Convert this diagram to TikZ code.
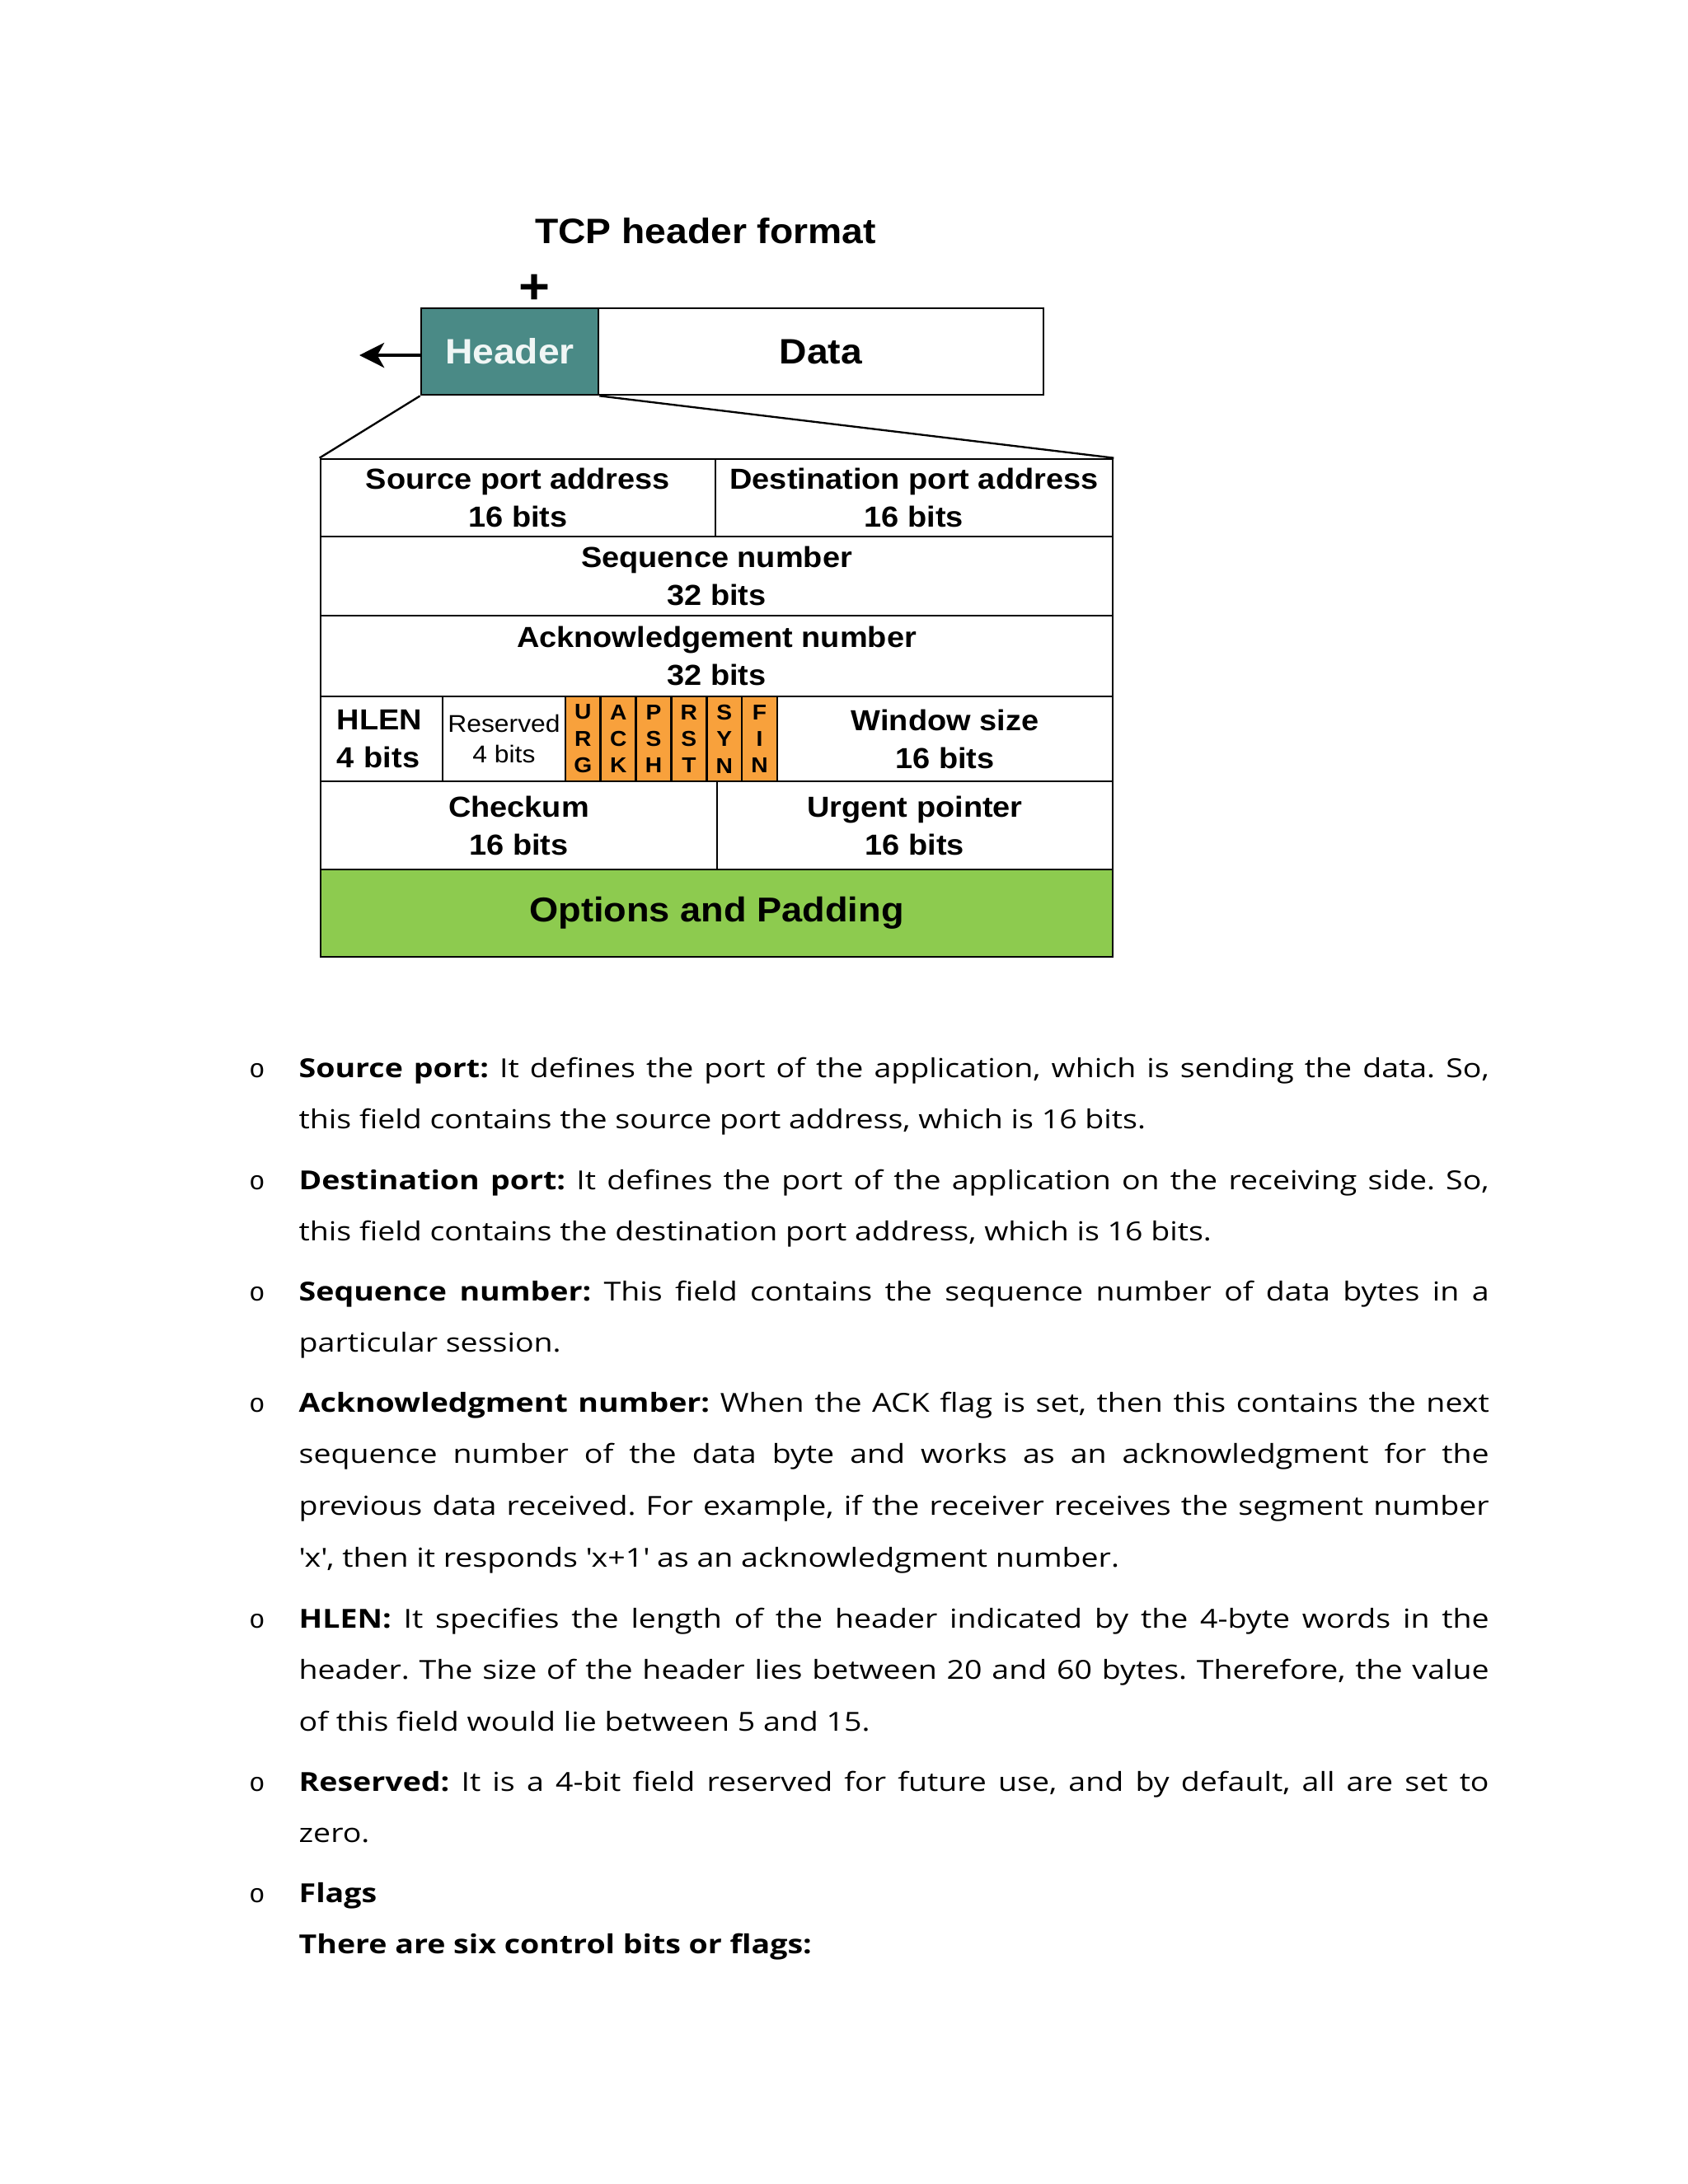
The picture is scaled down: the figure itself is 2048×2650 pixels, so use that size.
\documentclass[tikz,border=0pt]{standalone}
\usepackage{fontspec}
\usetikzlibrary{arrows.meta}
\newfontfamily\diagfont[FakeStretch=1.08]{Liberation Sans}
\newfontfamily\bodyfont[FakeStretch=1.18]{Open Sans}
\newfontfamily\bulletfont{Liberation Mono}
\newlength\pxu
\setlength\pxu{0.29883pt}
\definecolor{hdrteal}{RGB}{74,138,134}
\definecolor{flagorange}{RGB}{248,161,60}
\definecolor{optgreen}{RGB}{141,203,79}
\frenchspacing

\begin{document}
\begin{tikzpicture}[
  x=\pxu, y=-\pxu,
  cell/.style 2 args={draw,line width=0.8pt,minimum width=#1*\pxu,
    minimum height=#2*\pxu,inner sep=0pt,align=center,
    font=\diagfont\bfseries\fontsize{10.5}{13.7}\selectfont},
  flag/.style={cell={42.83}{103},fill=flagorange,
    font=\diagfont\bfseries\fontsize{7.8}{9.7}\selectfont},
  para/.style={anchor=base west,text width=431.5pt,align=justify,inner sep=0pt,
    font=\bodyfont\fontsize{9.5}{18.74}\selectfont,
    execute at begin node={\hyphenpenalty=10000\exhyphenpenalty=10000\tolerance=9999}},
  bullet/.style={anchor=base,inner sep=0pt,font=\bulletfont\fontsize{9.5}{9.5}\selectfont},
  link/.style={line width=0.7pt},
  arrow/.style={-{Stealth[length=9pt,width=9pt,inset=2.5pt]},line width=1.3pt}
]
\useasboundingbox[fill=white] (0,0) rectangle (2048,2650);

\node[font=\diagfont\bfseries\fontsize{12.8}{15}\selectfont] (title) at (856,280) {TCP header format};
\node[font=\diagfont\bfseries\fontsize{18}{18}\selectfont] (plus) at (648,351) {+};
\node[cell={215}{105},fill=hdrteal,text=white!92!hdrteal,
  font=\diagfont\bfseries\fontsize{12.8}{15}\selectfont] (hdr) at (618.5,426.5) {Header};
\node[cell={540}{105},font=\diagfont\bfseries\fontsize{12.8}{15}\selectfont] (data) at (996,426.5) {Data};
\coordinate (out) at (436,431);
\draw[arrow] (hdr.west |- out) -- (out);

\node[cell={479}{94}] (src) at (628.5,604) {Source port address\\16 bits};
\node[cell={482}{94}] (dst) at (1109,604) {Destination port address\\16 bits};
\node[cell={961}{96}] (seq) at (869.5,699) {Sequence number\\32 bits};
\node[cell={961}{98}] (ack) at (869.5,796) {Acknowledgement number\\32 bits};
\node[cell={148}{103},align=left,text width=32.3pt,inner xsep=5.98pt] (hlen) at (463,896.5) {HLEN\\4 bits};
\node[cell={149}{103},font=\diagfont\fontsize{8.8}{11.1}\selectfont] (rsv) at (611.5,896.5) {Reserved\\4 bits};
\foreach \f [count=\i from 0] in {{U\\R\\G},{A\\C\\K},{P\\S\\H},{R\\S\\T},{S\\Y\\N},{F\\I\\N}}
  \node[flag] (flag\i) at ({707.4+42.83*\i},896.5) {\f};
\node[cell={407}{103}] (win) at (1146.5,896.5) {Window size\\16 bits};
\node[cell={481}{107}] (chk) at (629.5,1001.5) {Checkum\\16 bits};
\node[cell={480}{107}] (uptr) at (1110,1001.5) {Urgent pointer\\16 bits};
\node[cell={961}{106},fill=optgreen,font=\diagfont\bfseries\fontsize{12.5}{15}\selectfont] (opt) at (869.5,1108) {Options and Padding};

\draw[link] (hdr.south west) -- (src.north west);
\draw[link] (hdr.south east) -- (dst.north east);

\foreach \y [count=\i] in {1307,1443,1578,1713,1975,2173,2308}
  \node[bullet] (b\i) at (312,\y) {o};

\node[para] (p1) at (362,1307) {\textbf{Source port:} It defines the port of the application, which is sending the data. So,\linebreak this field contains the source port address, which is 16 bits.};
\node[para] (p2) at (362,1443) {\textbf{Destination port:} It defines the port of the application on the receiving side. So,\linebreak this field contains the destination port address, which is 16 bits.};
\node[para] (p3) at (362,1578) {\textbf{Sequence number:} This field contains the sequence number of data bytes in a\linebreak particular session.};
\node[para] (p4) at (362,1713) {\textbf{Acknowledgment number:} When the ACK flag is set, then this contains the next\linebreak sequence number of the data byte and works as an acknowledgment for the\linebreak previous data received. For example, if the receiver receives the segment number\linebreak \textquotesingle x\textquotesingle, then it responds \textquotesingle x+1\textquotesingle\ as an acknowledgment number.};
\node[para] (p5) at (362,1975) {\textbf{HLEN:} It specifies the length of the header indicated by the 4-byte words in the\linebreak header. The size of the header lies between 20 and 60 bytes. Therefore, the value\linebreak of this field would lie between 5 and 15.};
\node[para] (p6) at (362,2173) {\textbf{Reserved:} It is a 4-bit field reserved for future use, and by default, all are set to\linebreak zero.};
\node[para] (p7) at (362,2308) {\textbf{Flags}\\\textbf{There are six control bits or flags:}};
\end{tikzpicture}
\end{document}
